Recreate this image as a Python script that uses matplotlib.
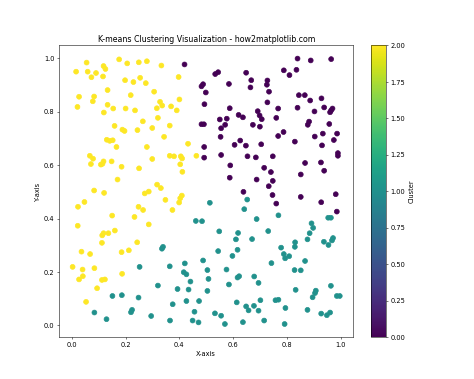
import numpy as np
import matplotlib
matplotlib.use('Agg')
import matplotlib.pyplot as plt

# points, grouped by cluster label
cluster0 = [  # purple, upper right
    (0.419, 0.977), (0.533, 0.941), (0.544, 0.948), (0.648, 0.946), (0.482, 0.895), (0.488, 0.903),
    (0.584, 0.904), (0.498, 0.872), (0.493, 0.828), (0.587, 0.813), (0.620, 0.788), (0.636, 0.779),
    (0.550, 0.771), (0.576, 0.774), (0.482, 0.753), (0.491, 0.753), (0.570, 0.751), (0.555, 0.738),
    (0.553, 0.706), (0.492, 0.668), (0.605, 0.676), (0.626, 0.692), (0.647, 0.673),
    (0.839, 0.999), (0.888, 0.992), (0.964, 0.997), (0.788, 0.955), (0.835, 0.957), (0.809, 0.937),
    (0.667, 0.918), (0.664, 0.891), (0.727, 0.917), (0.725, 0.901), (0.733, 0.875), (0.844, 0.862),
    (0.866, 0.862), (0.886, 0.842), (0.928, 0.850), (0.727, 0.835), (0.767, 0.812), (0.839, 0.815),
    (0.938, 0.816), (0.969, 0.812), (0.964, 0.805), (0.960, 0.798), (0.902, 0.801), (0.691, 0.802),
    (0.698, 0.786), (0.706, 0.772), (0.760, 0.777), (0.882, 0.763), (0.877, 0.751), (0.957, 0.754),
    (0.673, 0.751), (0.699, 0.744), (0.787, 0.724), (0.767, 0.709), (0.903, 0.707), (0.933, 0.718),
    (0.986, 0.718), (0.974, 0.694), (0.829, 0.688), (0.704, 0.678), (0.930, 0.674),
    (0.492, 0.628), (0.555, 0.638), (0.653, 0.633), (0.589, 0.599), (0.587, 0.553), (0.638, 0.500),
    (0.989, 0.645), (0.989, 0.635), (0.684, 0.629), (0.747, 0.633), (0.867, 0.608), (0.926, 0.610),
    (0.715, 0.590), (0.740, 0.574), (0.938, 0.579), (0.851, 0.565), (0.687, 0.546), (0.747, 0.541),
    (0.732, 0.521), (0.746, 0.488), (0.851, 0.481), (0.981, 0.491), (0.760, 0.456), (0.927, 0.461),
    (0.985, 0.426),
]

cluster1 = [  # teal, bottom right
    (0.252, 0.219), (0.151, 0.110), (0.186, 0.113), (0.248, 0.104), (0.084, 0.048), (0.224, 0.058),
    (0.220, 0.049), (0.129, 0.023), (0.295, 0.035),
    (0.652, 0.471), (0.513, 0.459), (0.641, 0.435), (0.461, 0.391), (0.484, 0.390), (0.548, 0.352),
    (0.618, 0.346), (0.610, 0.322), (0.616, 0.283), (0.544, 0.278), (0.339, 0.294), (0.335, 0.287),
    (0.768, 0.412), (0.687, 0.398), (0.953, 0.403), (0.963, 0.403), (0.891, 0.382), (0.897, 0.365),
    (0.730, 0.353), (0.884, 0.345), (0.876, 0.322), (0.670, 0.323), (0.971, 0.327), (0.967, 0.318),
    (0.937, 0.313), (0.954, 0.301), (0.830, 0.311), (0.829, 0.294), (0.778, 0.291),
    (0.597, 0.260), (0.364, 0.221), (0.420, 0.232), (0.488, 0.243), (0.575, 0.209), (0.416, 0.199),
    (0.426, 0.191), (0.504, 0.207), (0.622, 0.184), (0.616, 0.179), (0.508, 0.174), (0.441, 0.164),
    (0.584, 0.153), (0.320, 0.149), (0.393, 0.136), (0.434, 0.134), (0.504, 0.129), (0.426, 0.091),
    (0.473, 0.091), (0.375, 0.079), (0.613, 0.086), (0.648, 0.071), (0.657, 0.056), (0.456, 0.051),
    (0.532, 0.045), (0.555, 0.036), (0.365, 0.018), (0.449, 0.018), (0.471, 0.011), (0.569, 0.005),
    (0.636, 0.012),
    (0.788, 0.267), (0.808, 0.259), (0.793, 0.251), (0.742, 0.233), (0.867, 0.241), (0.828, 0.207),
    (0.851, 0.206), (0.678, 0.183), (0.694, 0.159), (0.963, 0.148), (0.832, 0.133), (0.907, 0.130),
    (0.904, 0.121), (0.895, 0.105), (0.985, 0.110), (0.996, 0.110), (0.757, 0.094), (0.768, 0.096),
    (0.701, 0.094), (0.677, 0.073), (0.694, 0.055), (0.794, 0.065), (0.876, 0.058), (0.927, 0.044),
    (0.948, 0.038), (0.960, 0.048), (0.715, 0.018), (0.791, 0.005),
]

cluster2 = [  # yellow, left
    (0.055, 0.984), (0.176, 0.996), (0.206, 0.981), (0.249, 0.985), (0.279, 0.989), (0.016, 0.950),
    (0.059, 0.950), (0.073, 0.929), (0.090, 0.945), (0.118, 0.971), (0.125, 0.960), (0.116, 0.932),
    (0.198, 0.918), (0.229, 0.911), (0.254, 0.927), (0.275, 0.907), (0.133, 0.881), (0.219, 0.862),
    (0.306, 0.875), (0.027, 0.856), (0.083, 0.857), (0.078, 0.839), (0.021, 0.818), (0.133, 0.826),
    (0.154, 0.812), (0.119, 0.797), (0.200, 0.812), (0.235, 0.805), (0.264, 0.764), (0.159, 0.747),
    (0.188, 0.733), (0.196, 0.728), (0.244, 0.731), (0.299, 0.739), (0.130, 0.695), (0.141, 0.691),
    (0.152, 0.693), (0.166, 0.668), (0.279, 0.668),
    (0.067, 0.635), (0.079, 0.624), (0.071, 0.604), (0.108, 0.602), (0.118, 0.614), (0.114, 0.605),
    (0.148, 0.614), (0.185, 0.594), (0.250, 0.588), (0.299, 0.623), (0.170, 0.546), (0.083, 0.505),
    (0.120, 0.496), (0.271, 0.494), (0.286, 0.501), (0.023, 0.444), (0.047, 0.462), (0.248, 0.444),
    (0.265, 0.432), (0.150, 0.411), (0.233, 0.406), (0.022, 0.373), (0.286, 0.378), (0.160, 0.355),
    (0.118, 0.345), (0.113, 0.337), (0.136, 0.345), (0.112, 0.309), (0.243, 0.311), (0.036, 0.276),
    (0.068, 0.267), (0.185, 0.274), (0.212, 0.281),
    (0.003, 0.219), (0.040, 0.209), (0.084, 0.214), (0.187, 0.193), (0.041, 0.184), (0.027, 0.172),
    (0.112, 0.170), (0.123, 0.172), (0.094, 0.139), (0.053, 0.088),
    (0.333, 0.973), (0.397, 0.930), (0.328, 0.837), (0.336, 0.823), (0.316, 0.813), (0.369, 0.820),
    (0.400, 0.846), (0.390, 0.805), (0.320, 0.777), (0.364, 0.748), (0.343, 0.706), (0.432, 0.680),
    (0.364, 0.635), (0.380, 0.633), (0.405, 0.633), (0.410, 0.625), (0.463, 0.635), (0.403, 0.603),
    (0.411, 0.575), (0.317, 0.527), (0.331, 0.514), (0.409, 0.486), (0.403, 0.476), (0.348, 0.470),
    (0.399, 0.460), (0.374, 0.432),
]

groups = [cluster0, cluster1, cluster2]
X = np.array([p for g in groups for p in g])
labels = np.concatenate([np.full(len(g), i) for i, g in enumerate(groups)])

fig = plt.figure(figsize=(10, 8), dpi=47.4)
scatter = plt.scatter(X[:, 0], X[:, 1], c=labels, cmap='viridis', s=55)
plt.colorbar(scatter, label='Cluster')
plt.title('K-means Clustering Visualization - how2matplotlib.com')
plt.xlabel('X-axis')
plt.ylabel('Y-axis')

plt.savefig('out.png', dpi=47.4)
plt.close()
